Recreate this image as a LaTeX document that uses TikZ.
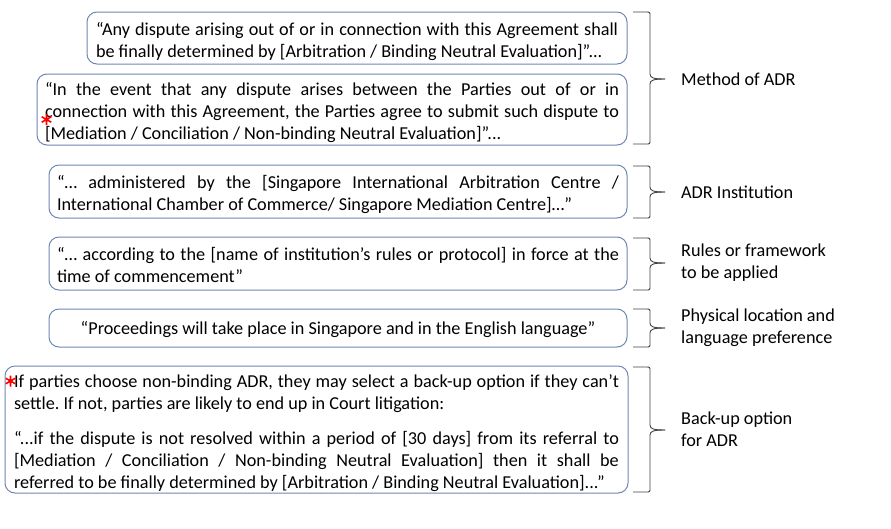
\documentclass[tikz,border=0pt]{standalone}
\usepackage{fontspec}
\setmainfont{Carlito}
\setlength{\parindent}{0pt}
\definecolor{boxblue}{RGB}{112,134,180}
\definecolor{braceg}{RGB}{64,64,64}
\newcommand\J[2]{\leavevmode\hbox to #1{\spaceskip=0pt\xspaceskip=0pt #2}}
\newcommand\brc[3]{%
  \draw[brc] (633,#1) -- (646,#1) .. controls (650,#1) .. (650,{#1+4}) -- (650,{#3-5}) .. controls (650,{#3-1}) and (654,#3) .. (665,#3);
  \draw[brc] (633,#2) -- (646,#2) .. controls (650,#2) .. (650,{#2-4}) -- (650,{#3+5}) .. controls (650,{#3+1}) and (654,#3) .. (665,#3);}
\begin{document}
\begin{tikzpicture}[x=1pt,y=-1pt,
  box/.style={draw=boxblue, line width=1pt, rounded corners=10pt, inner sep=0pt},
  txt/.style={align=left, inner sep=0pt, yshift=-3pt, font=\fontsize{18.2}{22}\selectfont, text=black,
    execute at begin node={\spaceskip=0pt\xspaceskip=0pt\frenchspacing}},
  lbl/.style={anchor=west, align=left, inner sep=0pt, font=\fontsize{18.2}{22}\selectfont, text=black,
    execute at begin node={\spaceskip=0pt\xspaceskip=0pt\frenchspacing}},
  brc/.style={draw=braceg, line width=0.9pt},
  redstar/.pic={\draw[red, line width=1.6pt] (0,-5.5)--(0,5.5) (-4.8,-2.75)--(4.8,2.75) (-4.8,2.75)--(4.8,-2.75);}]
\useasboundingbox (0,0) rectangle (891,528);

\node[box, minimum width=540pt, minimum height=52pt] (b1) at (357,38) {};
\node[txt, text width=522pt] (t1) at (b1.center)
 {\J{522pt}{“Any dispute arising out of or in connection with this Agreement shall}\\
  be finally determined by [Arbitration / Binding Neutral Evaluation]”...};

\node[box, minimum width=590pt, minimum height=71pt] (b2) at (332,109.5) {};
\node[txt, text width=574pt] (t2) at (b2.center)
 {\J{574pt}{“In the event that any dispute arises between the Parties out of or in}\\
  \J{574pt}{connection with this Agreement, the Parties agree to submit such dispute to}\\
  \relax[Mediation / Conciliation / Non-binding Neutral Evaluation]”...};

\node[box, minimum width=578pt, minimum height=53pt] (b3) at (338,191.5) {};
\node[txt, text width=562pt] (t3) at (b3.center)
 {\J{562pt}{“… administered by the [Singapore International Arbitration Centre /}\\
  International Chamber of Commerce/ Singapore Mediation Centre]…”};

\node[box, minimum width=578pt, minimum height=53pt] (b4) at (338,263.5) {};
\node[txt, text width=562pt, yshift=2pt] (t4) at (b4.center)
 {\J{562pt}{“… according to the [name of institution’s rules or protocol] in force at the}\\
  time of commencement”};

\node[box, minimum width=578pt, minimum height=38pt] (b5) at (338,328) {};
\node[txt, align=center, yshift=2pt] (t5) at (b5.center)
 {“Proceedings will take place in Singapore and in the English language”};

\node[box, minimum width=623pt, minimum height=127pt] (b6) at (316.5,429.5) {};
\node[txt, text width=605pt, yshift=-0.5pt] (t6) at (b6.center)
 {\J{605pt}{If parties choose non-binding ADR, they may select a back-up option if they can’t}\\
  settle. If not, parties are likely to end up in Court litigation:\\[12.5pt]
  \J{605pt}{“...if the dispute is not resolved within a period of [30 days] from its referral to}\\
  \J{605pt}{[Mediation / Conciliation / Non-binding Neutral Evaluation] then it shall be}\\
  referred to be finally determined by [Arbitration / Binding Neutral Evaluation]...”};

\pic at (46.5,119.5) {redstar};
\pic at (10.5,381) {redstar};

\brc{12}{144}{79}
\brc{166}{218}{192}
\brc{238}{290}{263}
\brc{309}{347}{328}
\brc{367}{492}{430}

\node[lbl] (l1) at (681,79) {Method of ADR};
\node[lbl] (l2) at (681,192) {ADR Institution};
\node[lbl] (l3) at (681,263) {Rules or framework\\to be applied};
\node[lbl] (l4) at (681,328) {Physical location and\\language preference};
\node[lbl] (l5) at (681,429) {Back-up option\\for ADR};
\end{tikzpicture}
\end{document}
